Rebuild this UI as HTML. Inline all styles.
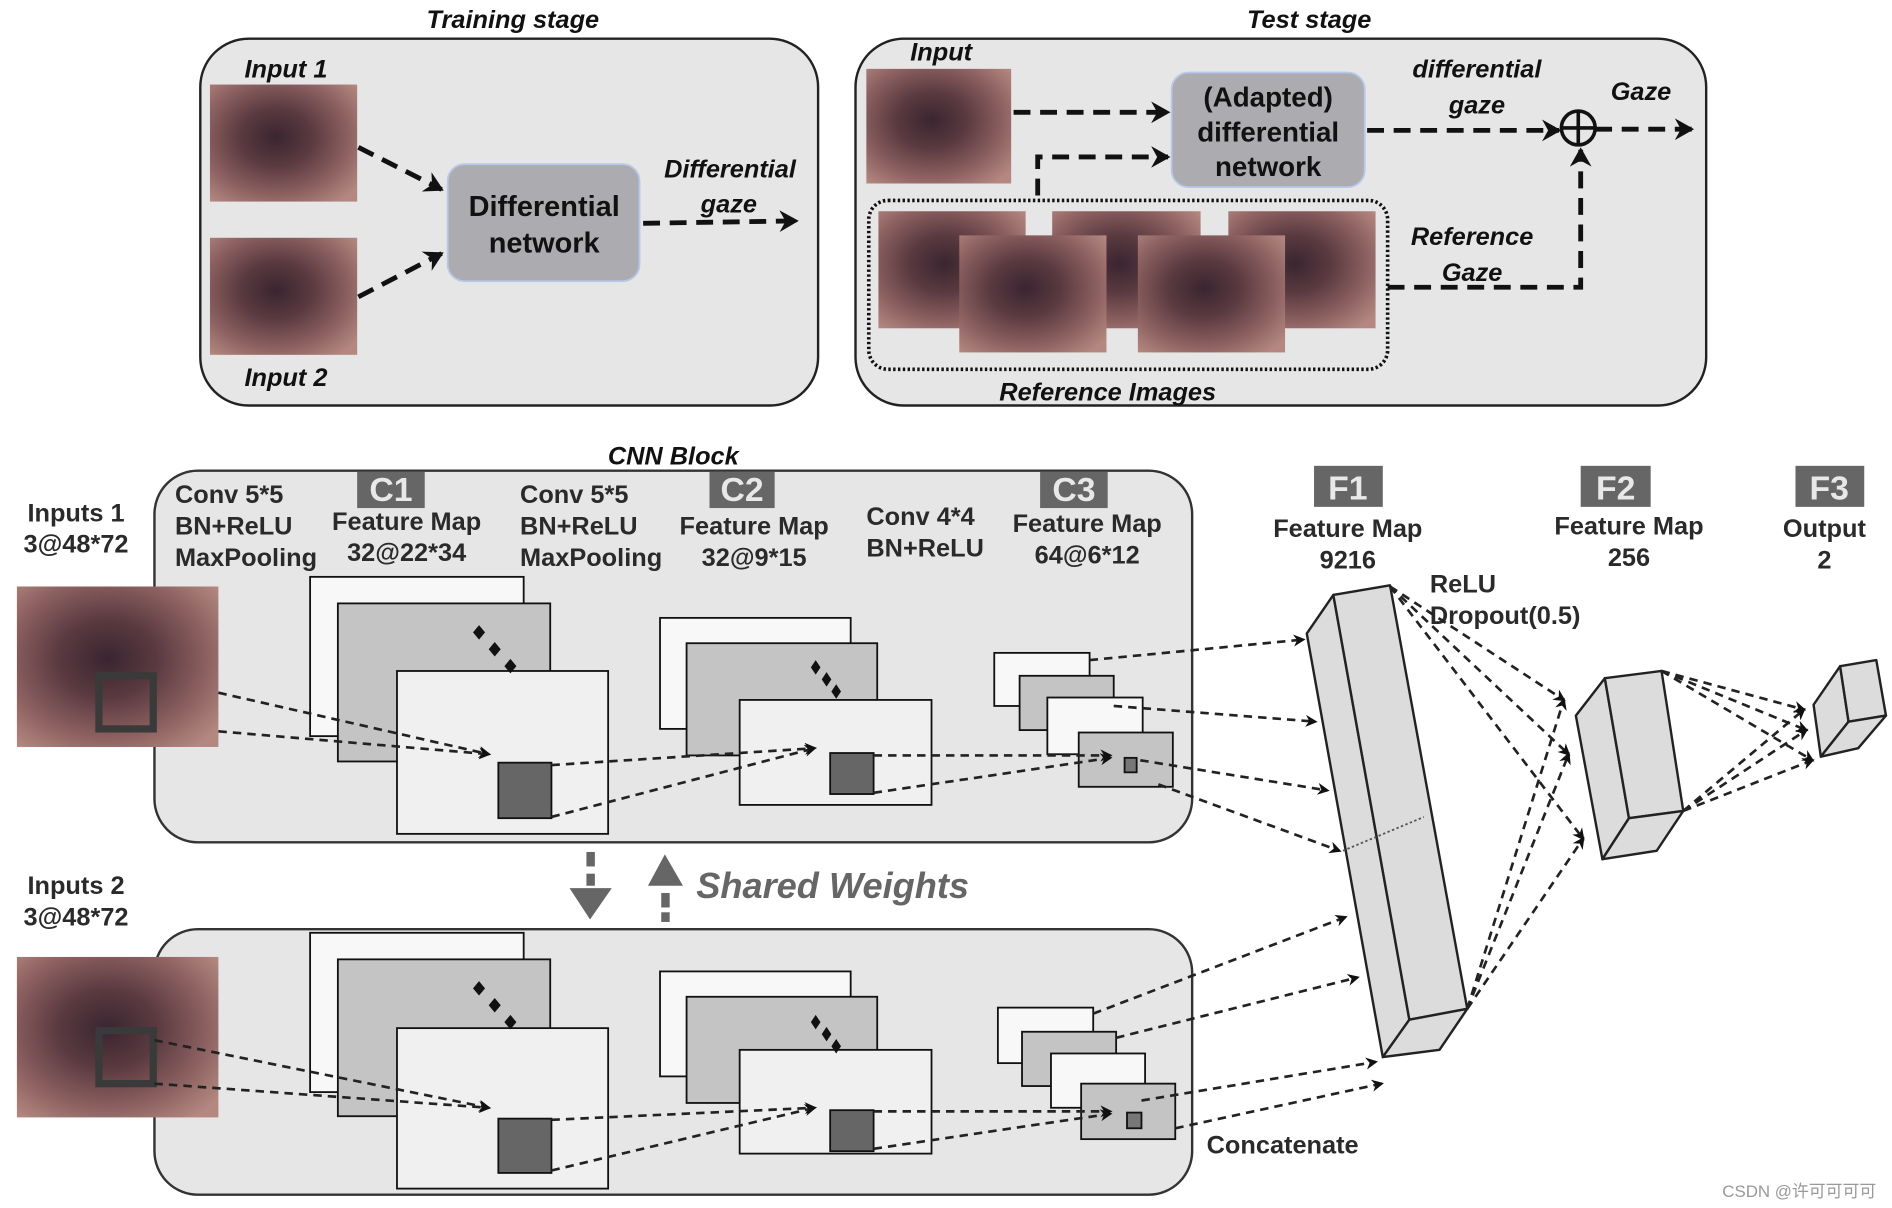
<!DOCTYPE html>
<html><head><meta charset="utf-8"><style>
html,body{margin:0;padding:0;background:#fff;}
svg{display:block;}
text{font-family:"Liberation Sans",Arial,sans-serif;}
.ti{font-weight:bold;font-style:italic;font-size:21px;fill:#111;}
.tb{font-weight:bold;font-size:21px;fill:#2a2a2a;}
.lab{font-weight:bold;font-size:28px;fill:#e8e8e8;}
</style></head><body>
<svg width="1892" height="1208" viewBox="0 0 1568 1001" xmlns="http://www.w3.org/2000/svg">
<defs>
<radialGradient id="eye" cx="0.45" cy="0.45" r="0.7">
<stop offset="0" stop-color="#3a2530"/><stop offset="0.35" stop-color="#5a3a40"/><stop offset="0.7" stop-color="#8c6060"/><stop offset="1" stop-color="#b48880"/>
</radialGradient>
<marker id="ah" markerWidth="10" markerHeight="10" refX="8" refY="5" orient="auto" markerUnits="userSpaceOnUse"><path d="M0,0 L10,5 L0,10 L3,5z" fill="#111"/></marker>
<marker id="ahb" markerWidth="16" markerHeight="18" refX="14" refY="9" orient="auto" markerUnits="userSpaceOnUse"><path d="M0,0 L16,9 L0,18 L5,9z" fill="#111"/></marker>
</defs>

<text x="425" y="23" class="ti" text-anchor="middle">Training stage</text>
<rect x="166" y="32" width="512" height="304" rx="40" fill="#e6e6e6" stroke="#222" stroke-width="2"/>
<text x="237" y="64" class="ti" text-anchor="middle">Input 1</text>
<rect x="174" y="70" width="122" height="97" fill="url(#eye)"/>
<rect x="174" y="197" width="122" height="97" fill="url(#eye)"/>
<text x="237" y="320" class="ti" text-anchor="middle">Input 2</text>
<rect x="371" y="136" width="159" height="97" rx="14" fill="#acacb0" stroke="#b8c8e8" stroke-width="1.5"/>
<text x="451" y="179" font-size="24" font-weight="bold" text-anchor="middle" fill="#111">Differential</text>
<text x="451" y="209" font-size="24" font-weight="bold" text-anchor="middle" fill="#111">network</text>
<g stroke="#111" stroke-width="4" stroke-dasharray="14,8" fill="none">
<line x1="297" y1="122" x2="366" y2="157" marker-end="url(#ahb)"/>
<line x1="297" y1="246" x2="366" y2="210" marker-end="url(#ahb)"/>
<line x1="533" y1="185" x2="660" y2="183" marker-end="url(#ahb)"/>
</g>
<text x="605" y="147" class="ti" text-anchor="middle">Differential</text>
<text x="604" y="176" class="ti" text-anchor="middle">gaze</text>

<text x="1085" y="23" class="ti" text-anchor="middle">Test stage</text>
<rect x="709" y="32" width="705" height="304" rx="40" fill="#e6e6e6" stroke="#222" stroke-width="2"/>
<text x="780" y="50" class="ti" text-anchor="middle">Input</text>
<rect x="718" y="57" width="120" height="95" fill="url(#eye)"/>
<rect x="971" y="60" width="160" height="95" rx="14" fill="#acacb0" stroke="#b8c8e8" stroke-width="1.5"/>
<text x="1051" y="88" font-size="23" font-weight="bold" text-anchor="middle" fill="#111">(Adapted)</text>
<text x="1051" y="117" font-size="23" font-weight="bold" text-anchor="middle" fill="#111">differential</text>
<text x="1051" y="146" font-size="23" font-weight="bold" text-anchor="middle" fill="#111">network</text>
<rect x="720" y="166" width="430" height="140" rx="16" fill="none" stroke="#111" stroke-width="3" stroke-dasharray="2,2"/>
<rect x="728" y="175" width="122" height="97" fill="url(#eye)"/>
<rect x="872" y="175" width="123" height="97" fill="url(#eye)"/>
<rect x="1018" y="175" width="122" height="97" fill="url(#eye)"/>
<rect x="795" y="195" width="122" height="97" fill="url(#eye)"/>
<rect x="943" y="195" width="122" height="97" fill="url(#eye)"/>
<g stroke="#111" stroke-width="4" stroke-dasharray="14,8" fill="none">
<line x1="840" y1="93" x2="968" y2="93" marker-end="url(#ahb)"/>
<polyline points="860,162 860,130 968,130" marker-end="url(#ahb)"/>
<line x1="1133" y1="108" x2="1292" y2="108" marker-end="url(#ahb)"/>
<line x1="1322" y1="107" x2="1402" y2="107" marker-end="url(#ahb)"/>
<polyline points="1150,238 1310,238 1310,124" marker-end="url(#ahb)"/>
</g>
<circle cx="1308" cy="106" r="14" fill="#e6e6e6" stroke="#111" stroke-width="3"/>
<line x1="1294" y1="106" x2="1322" y2="106" stroke="#111" stroke-width="3"/>
<line x1="1308" y1="92" x2="1308" y2="120" stroke="#111" stroke-width="3"/>
<text x="1224" y="64" class="ti" text-anchor="middle">differential</text>
<text x="1224" y="94" class="ti" text-anchor="middle">gaze</text>
<text x="1360" y="83" class="ti" text-anchor="middle">Gaze</text>
<text x="1220" y="203" class="ti" text-anchor="middle">Reference</text>
<text x="1220" y="233" class="ti" text-anchor="middle">Gaze</text>
<text x="918" y="332" class="ti" text-anchor="middle">Reference Images</text>

<text x="558" y="385" class="ti" text-anchor="middle">CNN Block</text>
<rect x="128" y="390" width="860" height="308" rx="36" fill="#e6e6e6" stroke="#333" stroke-width="2"/>
<rect x="128" y="770" width="860" height="220" rx="36" fill="#e6e6e6" stroke="#333" stroke-width="2"/>

<text x="63" y="432" class="tb" text-anchor="middle">Inputs 1</text>
<text x="63" y="458" class="tb" text-anchor="middle">3@48*72</text>
<text x="63" y="741" class="tb" text-anchor="middle">Inputs 2</text>
<text x="63" y="767" class="tb" text-anchor="middle">3@48*72</text>

<rect x="296" y="391" width="56" height="30" fill="#666"/><text x="324" y="415" class="lab" text-anchor="middle">C1</text>
<rect x="588" y="391" width="54" height="30" fill="#666"/><text x="615" y="415" class="lab" text-anchor="middle">C2</text>
<rect x="862" y="391" width="56" height="30" fill="#666"/><text x="890" y="415" class="lab" text-anchor="middle">C3</text>
<rect x="1089" y="386" width="57" height="34" fill="#666"/><text x="1117" y="414" class="lab" text-anchor="middle">F1</text>
<rect x="1310" y="386" width="58" height="34" fill="#666"/><text x="1339" y="414" class="lab" text-anchor="middle">F2</text>
<rect x="1488" y="386" width="57" height="34" fill="#666"/><text x="1516" y="414" class="lab" text-anchor="middle">F3</text>

<text x="145" y="417" class="tb">Conv 5*5</text>
<text x="145" y="443" class="tb">BN+ReLU</text>
<text x="145" y="469" class="tb">MaxPooling</text>
<text x="337" y="439" class="tb" text-anchor="middle">Feature Map</text>
<text x="337" y="465" class="tb" text-anchor="middle">32@22*34</text>
<text x="431" y="417" class="tb">Conv 5*5</text>
<text x="431" y="443" class="tb">BN+ReLU</text>
<text x="431" y="469" class="tb">MaxPooling</text>
<text x="625" y="443" class="tb" text-anchor="middle">Feature Map</text>
<text x="625" y="469" class="tb" text-anchor="middle">32@9*15</text>
<text x="718" y="435" class="tb">Conv 4*4</text>
<text x="718" y="461" class="tb">BN+ReLU</text>
<text x="901" y="441" class="tb" text-anchor="middle">Feature Map</text>
<text x="901" y="467" class="tb" text-anchor="middle">64@6*12</text>
<text x="1117" y="445" class="tb" text-anchor="middle">Feature Map</text>
<text x="1117" y="471" class="tb" text-anchor="middle">9216</text>
<text x="1350" y="443" class="tb" text-anchor="middle">Feature Map</text>
<text x="1350" y="469" class="tb" text-anchor="middle">256</text>
<text x="1512" y="445" class="tb" text-anchor="middle">Output</text>
<text x="1512" y="471" class="tb" text-anchor="middle">2</text>
<text x="1185" y="491" class="tb">ReLU</text>
<text x="1185" y="517" class="tb">Dropout(0.5)</text>
<text x="1000" y="956" class="tb">Concatenate</text>

<rect x="14" y="486" width="167" height="133" fill="url(#eye)"/>
<rect x="82" y="560" width="45" height="44" fill="none" stroke="#3a3a3a" stroke-width="6"/>
<g stroke="#111" stroke-width="1.5">
<rect x="257" y="478" width="177" height="132" fill="#f8f8f8"/>
<rect x="280" y="500" width="176" height="131" fill="#c4c4c4"/>
<rect x="329" y="556" width="175" height="135" fill="#f0f0f0"/>
<rect x="413" y="632" width="44" height="46" fill="#666"/>
<rect x="547" y="512" width="158" height="92" fill="#f8f8f8"/>
<rect x="569" y="533" width="158" height="93" fill="#c4c4c4"/>
<rect x="613" y="580" width="159" height="87" fill="#f0f0f0"/>
<rect x="688" y="624" width="36" height="34" fill="#666"/>
<rect x="824" y="541" width="79" height="44" fill="#f8f8f8"/>
<rect x="845" y="560" width="78" height="45" fill="#c4c4c4"/>
<rect x="868" y="578" width="79" height="47" fill="#f8f8f8"/>
<rect x="894" y="607" width="78" height="45" fill="#c4c4c4"/>
<rect x="932" y="628" width="10" height="12" fill="#777"/>
</g>
<g fill="#111"><path d="M397,518 l5,6 -5,6 -5,-6z"/><path d="M410,532 l5,6 -5,6 -5,-6z"/><path d="M423,546 l5,6 -5,6 -5,-6z"/>
<path d="M676,547 l4,6 -4,6 -4,-6z"/><path d="M685,557 l4,6 -4,6 -4,-6z"/><path d="M693,567 l4,6 -4,6 -4,-6z"/></g>

<rect x="14" y="793" width="167" height="133" fill="url(#eye)"/>
<rect x="82" y="854" width="45" height="44" fill="none" stroke="#3a3a3a" stroke-width="6"/>
<g stroke="#111" stroke-width="1.5">
<rect x="257" y="773" width="177" height="132" fill="#f8f8f8"/>
<rect x="280" y="795" width="176" height="130" fill="#c4c4c4"/>
<rect x="329" y="852" width="175" height="133" fill="#f0f0f0"/>
<rect x="413" y="927" width="44" height="45" fill="#666"/>
<rect x="547" y="805" width="158" height="87" fill="#f8f8f8"/>
<rect x="569" y="826" width="158" height="88" fill="#c4c4c4"/>
<rect x="613" y="870" width="159" height="86" fill="#f0f0f0"/>
<rect x="688" y="920" width="36" height="34" fill="#666"/>
<rect x="827" y="835" width="79" height="46" fill="#f8f8f8"/>
<rect x="847" y="855" width="78" height="45" fill="#c4c4c4"/>
<rect x="871" y="873" width="78" height="45" fill="#f8f8f8"/>
<rect x="896" y="898" width="78" height="46" fill="#c4c4c4"/>
<rect x="934" y="922" width="12" height="13" fill="#777"/>
</g>
<g fill="#111"><path d="M397,813 l5,6 -5,6 -5,-6z"/><path d="M410,827 l5,6 -5,6 -5,-6z"/><path d="M423,841 l5,6 -5,6 -5,-6z"/>
<path d="M676,841 l4,6 -4,6 -4,-6z"/><path d="M685,851 l4,6 -4,6 -4,-6z"/><path d="M693,861 l4,6 -4,6 -4,-6z"/></g>

<g fill="#666" stroke="none">
<rect x="486" y="706" width="7" height="12"/><rect x="486" y="724" width="7" height="10"/>
<path d="M472,736 L507,736 L489,762 z"/>
<path d="M537,734 L566,734 L551,708 z"/>
<rect x="548" y="740" width="7" height="12"/><rect x="548" y="756" width="7" height="8"/>
</g>
<text x="577" y="744" font-size="30" font-weight="bold" font-style="italic" fill="#666">Shared Weights</text>

<g stroke="#222" stroke-width="2" fill="#dcdcdc" stroke-linejoin="round">
<polygon points="1083,525 1105,493 1168,845 1146,876"/>
<polygon points="1105,493 1152,485 1216,836 1168,845"/>
<polygon points="1146,876 1168,845 1216,836 1193,870"/>
<polygon points="1306,593 1330,562 1350,678 1328,712"/>
<polygon points="1330,562 1377,556 1395,672 1350,678"/>
<polygon points="1328,712 1350,678 1395,672 1373,705"/>
<polygon points="1503,584 1525,552 1532,598 1509,627"/>
<polygon points="1525,552 1555,547 1563,593 1532,598"/>
<polygon points="1509,627 1532,598 1563,593 1540,620"/>
</g>
<line x1="1113" y1="705" x2="1180" y2="677" stroke="#555" stroke-width="1.5" stroke-dasharray="2,2"/>

<g stroke="#222" stroke-width="2.2" stroke-dasharray="7,5" fill="none">
<line x1="181" y1="574" x2="405" y2="625" marker-end="url(#ah)"/>
<line x1="181" y1="606" x2="405" y2="625" marker-end="url(#ah)"/>
<line x1="457" y1="634" x2="675" y2="620" marker-end="url(#ah)"/>
<line x1="457" y1="677" x2="675" y2="620" marker-end="url(#ah)"/>
<line x1="724" y1="626" x2="920" y2="626" marker-end="url(#ah)"/>
<line x1="724" y1="657" x2="920" y2="628" marker-end="url(#ah)"/>
<line x1="128" y1="862" x2="405" y2="918" marker-end="url(#ah)"/>
<line x1="128" y1="898" x2="405" y2="918" marker-end="url(#ah)"/>
<line x1="457" y1="928" x2="675" y2="918" marker-end="url(#ah)"/>
<line x1="457" y1="970" x2="675" y2="918" marker-end="url(#ah)"/>
<line x1="724" y1="921" x2="920" y2="921" marker-end="url(#ah)"/>
<line x1="724" y1="952" x2="920" y2="923" marker-end="url(#ah)"/>
<line x1="903" y1="547" x2="1080" y2="530" marker-end="url(#ah)"/>
<line x1="923" y1="585" x2="1090" y2="598" marker-end="url(#ah)"/>
<line x1="945" y1="630" x2="1100" y2="655" marker-end="url(#ah)"/>
<line x1="960" y1="650" x2="1110" y2="705" marker-end="url(#ah)"/>
<line x1="906" y1="840" x2="1115" y2="760" marker-end="url(#ah)"/>
<line x1="925" y1="860" x2="1125" y2="810" marker-end="url(#ah)"/>
<line x1="946" y1="912" x2="1140" y2="880" marker-end="url(#ah)"/>
<line x1="974" y1="935" x2="1145" y2="898" marker-end="url(#ah)"/>
<line x1="1152" y1="486" x2="1296" y2="580" marker-end="url(#ah)"/>
<line x1="1152" y1="486" x2="1300" y2="625" marker-end="url(#ah)"/>
<line x1="1152" y1="486" x2="1312" y2="695" marker-end="url(#ah)"/>
<line x1="1216" y1="836" x2="1296" y2="580" marker-end="url(#ah)"/>
<line x1="1216" y1="836" x2="1300" y2="625" marker-end="url(#ah)"/>
<line x1="1216" y1="836" x2="1312" y2="695" marker-end="url(#ah)"/>
<line x1="1377" y1="556" x2="1495" y2="588" marker-end="url(#ah)"/>
<line x1="1377" y1="556" x2="1497" y2="605" marker-end="url(#ah)"/>
<line x1="1377" y1="556" x2="1502" y2="630" marker-end="url(#ah)"/>
<line x1="1395" y1="672" x2="1495" y2="588" marker-end="url(#ah)"/>
<line x1="1395" y1="672" x2="1497" y2="605" marker-end="url(#ah)"/>
<line x1="1395" y1="672" x2="1502" y2="630" marker-end="url(#ah)"/>
</g>
<text x="1555" y="992" font-size="14" fill="#999" text-anchor="end" font-family="'Liberation Sans','Noto Sans CJK SC',sans-serif">CSDN @许可可可可</text>
</svg>
</body></html>
